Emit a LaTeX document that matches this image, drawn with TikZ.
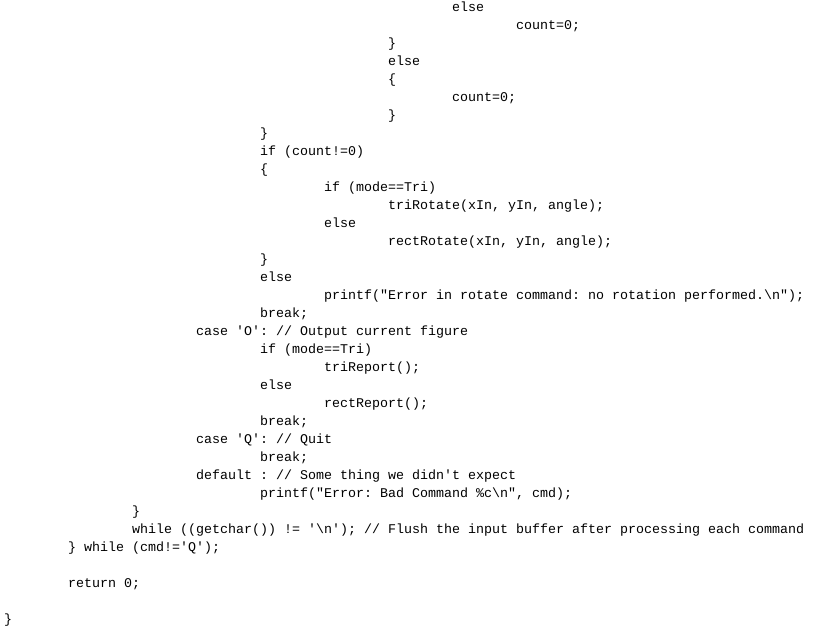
\documentclass[tikz,border=0pt]{standalone}
\usepackage{fontspec}
\setmonofont{Liberation Mono}
\begin{document}
\begin{tikzpicture}[x=1pt,y=-1pt,code/.style={anchor=base west,inner sep=0pt,font=\fontsize{13.33}{16}\ttfamily,text=black}]
\useasboundingbox[fill=white] (0,0) rectangle (833,633);
\def\L#1#2#3#4{\node[code] (#1) at (#2,#3+5) {#4};}
\L{l1}{452}{6}{else}
\L{l2}{516}{24}{count=0;}
\L{l3}{388}{42}{\}}
\L{l4}{388}{60}{else}
\L{l5}{388}{78}{\{}
\L{l6}{452}{96}{count=0;}
\L{l7}{388}{114}{\}}
\L{l8}{260}{132}{\}}
\L{l9}{260}{150}{if (count!=0)}
\L{l10}{260}{168}{\{}
\L{l11}{324}{186}{if (mode==Tri)}
\L{l12}{388}{204}{triRotate(xIn, yIn, angle);}
\L{l13}{324}{222}{else}
\L{l14}{388}{240}{rectRotate(xIn, yIn, angle);}
\L{l15}{260}{258}{\}}
\L{l16}{260}{276}{else}
\L{l17}{324}{294}{printf("Error in rotate command: no rotation performed.\textbackslash n");}
\L{l18}{260}{312}{break;}
\L{l19}{196}{330}{case 'O': // Output current figure}
\L{l20}{260}{348}{if (mode==Tri)}
\L{l21}{324}{366}{triReport();}
\L{l22}{260}{384}{else}
\L{l23}{324}{402}{rectReport();}
\L{l24}{260}{420}{break;}
\L{l25}{196}{438}{case 'Q': // Quit}
\L{l26}{260}{456}{break;}
\L{l27}{196}{474}{default : // Some thing we didn't expect}
\L{l28}{260}{492}{printf("Error: Bad Command \%c\textbackslash n", cmd);}
\L{l29}{132}{510}{\}}
\L{l30}{132}{528}{while ((getchar()) != '\textbackslash n'); // Flush the input buffer after processing each command}
\L{l31}{68}{546}{\} while (cmd!='Q');}
\L{l33}{68}{582}{return 0;}
\L{l35}{4}{618}{\}}
\end{tikzpicture}
\end{document}
